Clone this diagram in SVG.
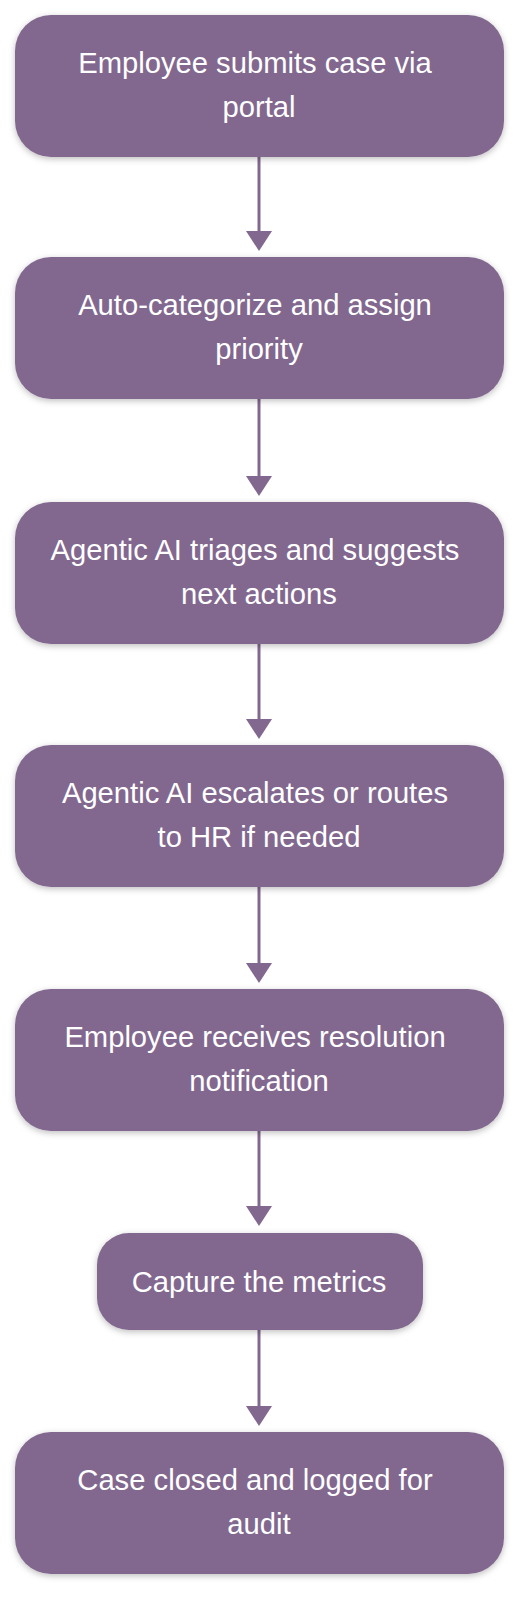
<svg xmlns="http://www.w3.org/2000/svg" width="524" height="1600" viewBox="0 0 524 1600">
<defs>
<filter id="sh" x="-10%" y="-20%" width="120%" height="150%">
<feDropShadow dx="0" dy="2" stdDeviation="3" flood-color="#000" flood-opacity="0.25"/>
</filter>
</defs>
<style>
.box{fill:#82688F;filter:url(#sh);}
.t{font-family:"Liberation Sans",Arial,sans-serif;font-size:29.2px;fill:#ffffff;text-anchor:middle;}
.c{stroke:#82688F;stroke-width:3;fill:none;}
.h{fill:#82688F;}
</style>
<rect width="524" height="1600" fill="#ffffff"/>
<g id="connectors">
<line class="c" x1="259" y1="157" x2="259" y2="232"/>
<path class="h" d="M246,231 L272,231 L259,251 Z"/>
<line class="c" x1="259" y1="399" x2="259" y2="477"/>
<path class="h" d="M246,476 L272,476 L259,496 Z"/>
<line class="c" x1="259" y1="644" x2="259" y2="720"/>
<path class="h" d="M246,719 L272,719 L259,739 Z"/>
<line class="c" x1="259" y1="887" x2="259" y2="964"/>
<path class="h" d="M246,963 L272,963 L259,983 Z"/>
<line class="c" x1="259" y1="1131" x2="259" y2="1207"/>
<path class="h" d="M246,1206 L272,1206 L259,1226 Z"/>
<line class="c" x1="259" y1="1330" x2="259" y2="1407"/>
<path class="h" d="M246,1406 L272,1406 L259,1426 Z"/>
</g>
<g id="n1">
<rect class="box" x="15" y="15" width="489" height="142" rx="36"/>
<text class="t" x="255" y="73">Employee submits case via</text>
<text class="t" x="259" y="117">portal</text>
</g>
<g id="n2">
<rect class="box" x="15" y="257" width="489" height="142" rx="36"/>
<text class="t" x="255" y="315">Auto-categorize and assign</text>
<text class="t" x="259" y="359">priority</text>
</g>
<g id="n3">
<rect class="box" x="15" y="502" width="489" height="142" rx="36"/>
<text class="t" x="255" y="560">Agentic AI triages and suggests</text>
<text class="t" x="259" y="604">next actions</text>
</g>
<g id="n4">
<rect class="box" x="15" y="745" width="489" height="142" rx="36"/>
<text class="t" x="255" y="803">Agentic AI escalates or routes</text>
<text class="t" x="259" y="847">to HR if needed</text>
</g>
<g id="n5">
<rect class="box" x="15" y="989" width="489" height="142" rx="36"/>
<text class="t" x="255" y="1047">Employee receives resolution</text>
<text class="t" x="259" y="1091">notification</text>
</g>
<g id="n6">
<rect class="box" x="97" y="1233" width="326" height="97" rx="32"/>
<text class="t" x="259" y="1292">Capture the metrics</text>
</g>
<g id="n7">
<rect class="box" x="15" y="1432" width="489" height="142" rx="36"/>
<text class="t" x="255" y="1490">Case closed and logged for</text>
<text class="t" x="259" y="1534">audit</text>
</g>
</svg>
